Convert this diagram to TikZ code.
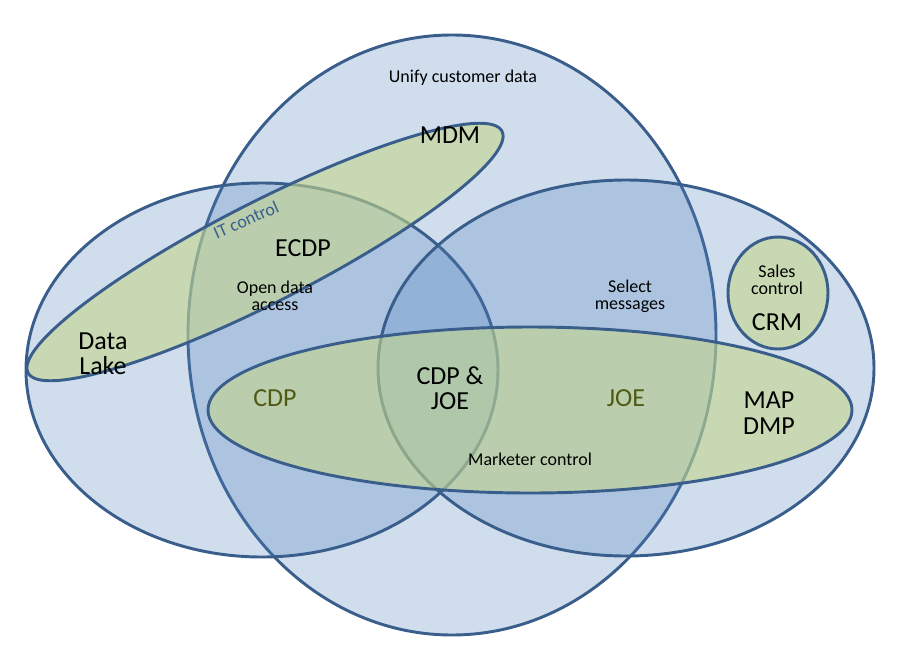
\documentclass[tikz,border=0pt]{standalone}
\usepackage{fontspec}
\setmainfont{Carlito}
\begin{document}
\begin{tikzpicture}[x=0.75pt,y=-0.75pt,
  blu/.style={fill={rgb,255:red,79;green,129;blue,189},fill opacity=0.27,draw={rgb,255:red,58;green,94;blue,140},line width=2.2pt,draw opacity=1},
  grn/.style={fill={rgb,255:red,196;green,214;blue,140},fill opacity=0.6,draw={rgb,255:red,58;green,94;blue,140},line width=2.2pt,draw opacity=1},
  sm/.style={font=\fontsize{13.5}{15}\selectfont,align=center},
  bg/.style={font=\fontsize{19.5}{22}\selectfont,align=center},
  olv/.style={text={rgb,255:red,80;green,90;blue,20}}]
\useasboundingbox (0,0) rectangle (904,647);
\draw[blu] (452,335) ellipse [x radius=264, y radius=300];
\draw[blu] (262,370) ellipse [x radius=236, y radius=187];
\draw[blu] (626,368) ellipse [x radius=248, y radius=188];
\draw[grn,rotate around={27:(265,252)}] (265,252) ellipse [x radius=266, y radius=50];
\draw[grn] (530,410) ellipse [x radius=322, y radius=83];
\draw[grn] (778,293) ellipse [x radius=50, y radius=56];
\node[sm] (u) at (463,78) {Unify customer data};
\node[bg] (mdm) at (450,135) {MDM};
\node[sm,rotate=24,text={rgb,255:red,58;green,94;blue,140}] (it) at (246,220) {IT control};
\node[bg] (ecdp) at (303,248) {ECDP};
\node[sm] (oda) at (275,296) {Open data\\[-2pt]access};
\node[bg] (dl) at (103,354) {Data\\[-3pt]Lake};
\node[sm] (sel) at (630,296) {Select\\[-2pt]messages};
\node[sm] (sc) at (777,280) {Sales\\[-2pt]control};
\node[bg] (crm) at (777,322) {CRM};
\node[bg,olv] (cdp) at (275,398) {CDP};
\node[bg] (cj) at (450,388) {CDP \&\\[-3pt]JOE};
\node[bg,olv] (joe) at (626,398) {JOE};
\node[bg] (map) at (769,413) {MAP\\[-3pt]DMP};
\node[sm] (mc) at (530,459) {Marketer control};
\end{tikzpicture}
\end{document}
